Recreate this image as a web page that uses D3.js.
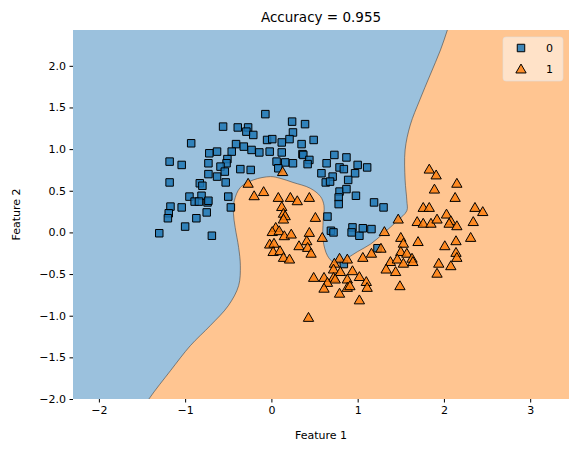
<!DOCTYPE html>
<html><head><meta charset="utf-8">
<script src="https://cdn.jsdelivr.net/npm/d3@7"></script>
<style>body{margin:0;background:#fff}svg{font-family:"DejaVu Sans",sans-serif}</style>
</head><body><svg id="c" width="579" height="453"></svg>
<script>
const class0 = [[-0.07,1.42],[-0.56,1.27],[-0.39,1.26],[-0.27,1.26],[-0.29,1.21],[-0.21,1.17],[-0.93,1.07],[-0.41,1.06],[-0.32,1.03],[-0.05,1.11],[0.01,1.12],[0.12,1.08],[-0.63,0.97],[-0.72,0.95],[-0.46,0.97],[-0.23,0.99],[-0.14,0.96],[-0.02,0.97],[0.12,0.96],[-1.18,0.85],[-1.04,0.81],[-0.73,0.83],[-0.51,0.88],[-0.52,0.83],[-0.59,0.79],[0.06,0.85],[0.16,0.84],[-0.36,0.76],[-0.24,0.75],[-0.54,0.73],[-0.73,0.70],[-0.63,0.67],[0.08,0.77],[-1.18,0.60],[-0.83,0.59],[-0.80,0.56],[-0.53,0.60],[-0.95,0.43],[-0.81,0.44],[-0.50,0.43],[-0.89,0.37],[-0.84,0.37],[-0.74,0.36],[-0.73,0.38],[-1.17,0.31],[-1.04,0.30],[-0.47,0.30],[-1.19,0.23],[-1.20,0.17],[-0.75,0.24],[-0.87,0.17],[-1.00,0.07],[-1.30,-0.01],[-0.69,-0.04],[0.24,1.33],[0.39,1.30],[0.25,1.20],[0.21,1.12],[0.35,1.06],[0.49,1.11],[0.36,0.94],[0.37,0.93],[0.44,0.87],[0.25,0.83],[0.42,0.82],[0.73,0.93],[0.87,0.90],[0.64,0.83],[0.79,0.78],[0.84,0.76],[1.00,0.81],[1.11,0.78],[0.97,0.71],[0.58,0.71],[0.71,0.67],[0.63,0.60],[0.68,0.61],[0.89,0.63],[0.79,0.49],[0.87,0.52],[0.98,0.44],[0.78,0.42],[0.78,0.34],[1.19,0.36],[1.30,0.30],[0.65,0.19],[0.69,0.02],[0.72,0.00],[0.94,0.06],[0.93,0.00],[1.02,-0.04],[1.06,0.05],[1.16,0.04],[1.23,-0.19],[0.84,-0.38]];
const class1 = [[0.13,0.73],[-0.27,0.59],[-0.20,0.44],[-0.09,0.49],[0.08,0.42],[0.22,0.42],[0.30,0.38],[0.44,0.42],[0.12,0.31],[0.14,0.23],[0.16,0.20],[0.14,0.16],[0.51,0.18],[0.05,0.06],[0.01,0.01],[0.09,0.02],[0.15,-0.04],[0.23,-0.02],[0.44,0.00],[0.41,-0.10],[0.59,-0.06],[-0.02,-0.14],[0.03,-0.13],[0.02,-0.23],[0.10,-0.22],[0.32,-0.16],[0.42,-0.18],[0.14,-0.30],[0.21,-0.32],[0.46,-0.25],[0.79,-0.31],[0.73,-0.37],[0.88,-0.32],[1.06,-0.30],[1.16,-0.25],[1.27,-0.19],[0.72,-0.44],[0.80,-0.47],[0.94,-0.46],[0.72,-0.54],[0.61,-0.54],[0.49,-0.54],[0.74,-0.56],[0.88,-0.56],[1.02,-0.53],[1.10,-0.59],[0.65,-0.60],[0.88,-0.66],[0.91,-0.64],[1.11,-0.66],[0.61,-0.67],[0.79,-0.73],[1.02,-0.81],[0.43,-1.02],[1.31,0.01],[1.47,0.16],[1.69,0.13],[1.50,-0.06],[1.53,-0.13],[1.50,-0.23],[1.57,-0.25],[1.63,-0.31],[1.38,-0.35],[1.46,-0.32],[1.53,-0.37],[1.33,-0.44],[1.44,-0.47],[1.64,-0.35],[1.49,-0.64],[1.70,-0.11],[1.83,0.76],[1.91,0.69],[2.15,0.59],[1.89,0.52],[2.13,0.42],[1.76,0.30],[1.83,0.30],[2.36,0.30],[2.45,0.25],[2.03,0.22],[1.76,0.11],[1.85,0.11],[1.92,0.16],[2.08,0.14],[2.06,0.11],[2.15,0.08],[2.34,0.13],[2.14,-0.10],[2.31,-0.06],[2.01,-0.16],[2.14,-0.24],[2.15,-0.30],[1.94,-0.37],[2.08,-0.40],[1.92,-0.49]];
const boundary0 = [[2.12,2.7],[2.04,2.43],[1.96,2.19],[1.84,1.89],[1.72,1.59],[1.61,1.29],[1.55,0.99],[1.55,0.63],[1.57,0.38],[1.57,0.26],[1.46,0.14],[1.30,-0.01],[1.15,-0.14],[1.00,-0.23],[0.88,-0.31],[0.80,-0.37],[0.72,-0.36],[0.65,-0.28],[0.60,-0.10],[0.60,0.14],[0.61,0.32],[0.57,0.43],[0.45,0.53],[0.25,0.60],[0.10,0.65],[-0.01,0.67],[-0.21,0.63],[-0.36,0.54],[-0.43,0.38],[-0.44,0.23],[-0.42,0.06],[-0.38,-0.18],[-0.36,-0.40],[-0.38,-0.64],[-0.50,-0.88],[-0.71,-1.12],[-0.94,-1.36],[-1.17,-1.66],[-1.42,-2.0],[-1.6,-2.3]];
const outerCorners = [[-3,-2.3],[-3,2.7]];
const xTicks = [-2,-1,0,1,2,3];
const yTicks = [-2.0,-1.5,-1.0,-0.5,0.0,0.5,1.0,1.5,2.0];
const xDomain = [-2.3,3.45], yDomain = [-2.0,2.43];
const labels = ["0","1"];
const title = "Accuracy = 0.955";

const svg = d3.select("#c");
const L=73,R=569,T=30,B=399;
const x = d3.scaleLinear().domain(xDomain).range([L,R]);
const y = d3.scaleLinear().domain(yDomain).range([B,T]);
const blue="#1f77b4", orange="#ff7f0e";
svg.append("clipPath").attr("id","clip").append("rect").attr("x",L).attr("y",T).attr("width",R-L).attr("height",B-T);
const plot=svg.append("g").attr("clip-path","url(#clip)");
plot.append("rect").attr("x",L).attr("y",T).attr("width",R-L).attr("height",B-T).attr("fill","#ffc591");
const pathD = d3.line().curve(d3.curveCatmullRom)(boundary0.map(d=>[x(d[0]),y(d[1])]));
const cornerD = outerCorners.map(d=>"L"+x(d[0])+","+y(d[1])).join("")+"Z";
plot.append("path").attr("d",pathD+cornerD).attr("fill","#9bc1dd");
plot.append("path").attr("d",pathD).attr("fill","none").attr("stroke","#444").attr("stroke-width",0.6);
const sq=d3.symbol().type(d3.symbolSquare).size(56);
svg.append("g").selectAll("path").data(class0).join("path").attr("d",sq)
  .attr("transform",d=>`translate(${x(d[0])},${y(d[1])})`).attr("fill",blue).attr("fill-opacity",0.85).attr("stroke","#000").attr("stroke-width",1);
const tri=d3.symbol().type(d3.symbolTriangle).size(46);
svg.append("g").selectAll("path").data(class1).join("path").attr("d",tri)
  .attr("transform",d=>`translate(${x(d[0])},${y(d[1])+1})`).attr("fill",orange).attr("fill-opacity",0.85).attr("stroke","#000").attr("stroke-width",1);
const ax = svg.append("g").attr("transform",`translate(0,${B})`).call(d3.axisBottom(x).tickValues(xTicks).tickSize(3.5).tickPadding(3.5));
const ay = svg.append("g").attr("transform",`translate(${L},0)`).call(d3.axisLeft(y).tickValues(yTicks).tickSize(3.5).tickPadding(3.5));
[ax,ay].forEach(a=>{a.select(".domain").remove();a.selectAll("text").attr("font-size",11).attr("fill","#000").attr("font-family","DejaVu Sans");a.selectAll("line").attr("stroke","#000");});
ax.selectAll("text").text(d=>d<0?"\u2212"+Math.abs(d):d);
ay.selectAll("text").text(d=>(d<0?"\u2212":"")+Math.abs(d).toFixed(1));
svg.append("text").attr("x",(L+R)/2).attr("y",439).attr("text-anchor","middle").attr("font-size",11).text("Feature 1");
svg.append("text").attr("transform",`translate(20,${(T+B)/2}) rotate(-90)`).attr("text-anchor","middle").attr("font-size",11).text("Feature 2");
svg.append("text").attr("x",(L+R)/2).attr("y",22).attr("text-anchor","middle").attr("font-size",13.5).text(title);
const lg=svg.append("g");
lg.append("rect").attr("x",503).attr("y",37).attr("width",60).attr("height",44).attr("rx",3).attr("fill","#fff").attr("fill-opacity",0.5).attr("stroke","#ddd").attr("stroke-opacity",0.6);
labels.forEach((lab,i)=>{
  const yy=48+i*21;
  lg.append("path").attr("d",i?tri:sq).attr("transform",`translate(521,${yy+(i?1:0)})`).attr("fill",i?orange:blue).attr("fill-opacity",0.85).attr("stroke","#000");
  lg.append("text").attr("x",546).attr("y",yy+4).attr("font-size",11).text(lab);
});
</script></body></html>
